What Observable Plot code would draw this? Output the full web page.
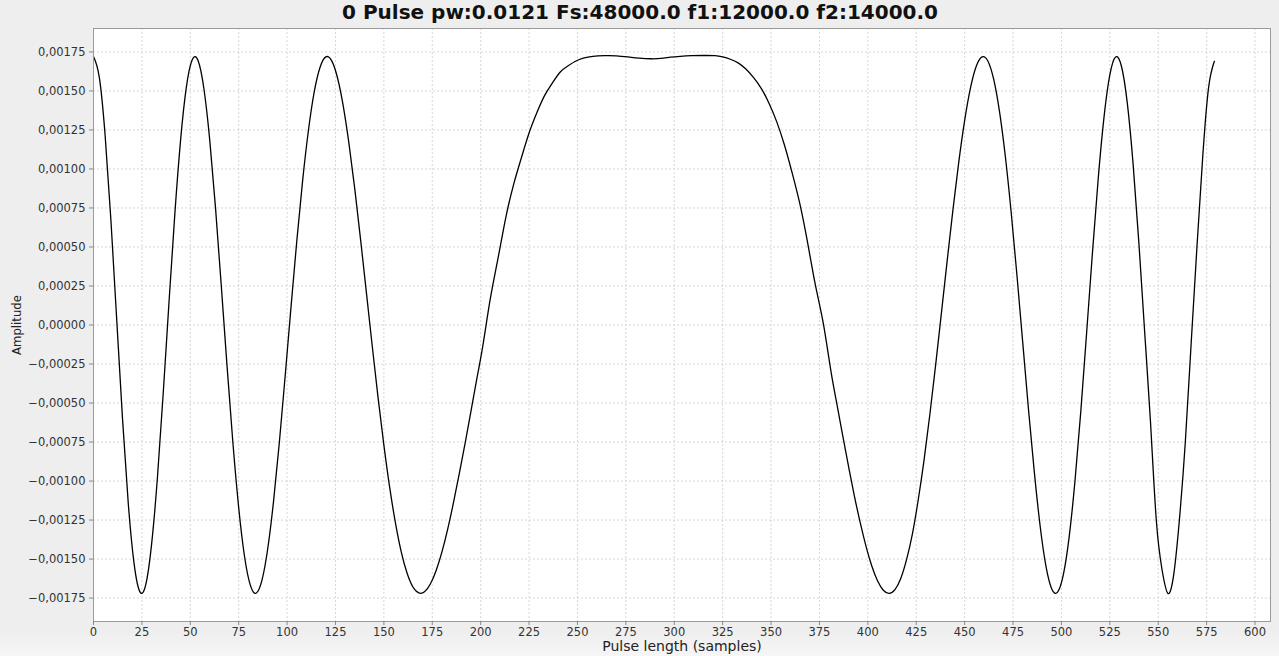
<!DOCTYPE html>
<html>
<head>
<meta charset="utf-8">
<script src="https://cdn.jsdelivr.net/npm/d3@7"></script>
<script src="https://cdn.jsdelivr.net/npm/@observablehq/plot@0.6"></script>
<style>
  html, body { margin: 0; padding: 0; }
  body { width: 1279px; height: 656px; overflow: hidden;
         background: linear-gradient(to bottom, #eeeeee 0px, #eeeeee 630px, #f6f6f6 656px); }
  #chart svg { display: block; }
</style>
</head>
<body>
<div id="chart"></div>
<script>
const titleText = "0 Pulse pw:0.0121 Fs:48000.0 f1:12000.0 f2:14000.0";
const xLabel = "Pulse length (samples)";
const yLabel = "Amplitude";

const xTicks = [0, 25, 50, 75, 100, 125, 150, 175, 200, 225, 250, 275, 300, 325, 350, 375, 400, 425, 450, 475, 500, 525, 550, 575, 600];
const yTicks = [-0.00175, -0.0015, -0.00125, -0.001, -0.00075, -0.0005, -0.00025, 0, 0.00025, 0.0005, 0.00075, 0.001, 0.00125, 0.0015, 0.00175];

const samples = [
  0, 3, 6, 9, 12, 15, 18, 21, 24, 27, 30, 33, 36, 39, 42, 45, 48, 51, 54, 57,
  60, 63, 66, 69, 72, 75, 78, 81, 84, 87, 90, 93, 96, 99, 102, 105, 108, 111, 114, 117,
  120, 123, 126, 129, 132, 135, 138, 141, 144, 147, 150, 153, 156, 159, 162, 165, 168, 171, 174, 177,
  180, 183, 186, 189, 192, 195, 198, 201, 205, 209, 213, 217, 221, 225, 229, 233, 237, 241, 245, 249,
  253, 258, 264, 270, 276, 282, 288, 293, 298, 303, 309, 315, 321, 325, 329, 333, 337, 341, 345, 349,
  353, 357, 361, 365, 369, 373, 377, 381, 384, 387, 390, 393, 396, 399, 402, 405, 408, 411, 414, 417,
  420, 423, 426, 429, 432, 435, 438, 441, 444, 447, 450, 453, 456, 459, 462, 465, 468, 471, 474, 477,
  480, 483, 486, 489, 492, 495, 498, 501, 504, 507, 510, 513, 516, 519, 522, 525, 528, 531, 534, 537,
  540, 543, 546, 549, 552, 555, 558, 561, 564, 567, 570, 573, 576, 579
];
const amplitude = [
  0.00172, 0.001587, 0.001216, 0.000671, 0.000032, -0.000603, -0.00115, -0.001532, -0.00171, -0.001664,
  -0.001406, -0.000982, -0.000441, 0.000146, 0.000709, 0.001186, 0.001527, 0.0017, 0.001695, 0.001517,
  0.001191, 0.000755, 0.000253, -0.000265, -0.000753, -0.00117, -0.001482, -0.001667, -0.001719, -0.001637,
  -0.001434, -0.00113, -0.000753, -0.000328, 0.000111, 0.000536, 0.000922, 0.001245, 0.001492, 0.00165,
  0.001718, 0.001694, 0.001586, 0.001404, 0.001159, 0.000869, 0.000544, 0.000204, -0.000136, -0.000465,
  -0.00077, -0.001041, -0.00127, -0.001456, -0.001591, -0.001679, -0.001717, -0.00171, -0.00166, -0.001573,
  -0.001454, -0.001307, -0.001135, -0.000949, -0.000755, -0.000552, -0.000345, -0.000142, 0.00017, 0.00043,
  0.00069, 0.0009, 0.00107, 0.00123, 0.00136, 0.00147, 0.00155, 0.00162, 0.00166, 0.00169,
  0.00171, 0.001722, 0.001726, 0.001725, 0.001718, 0.00171, 0.001706, 0.001708, 0.001716, 0.001722,
  0.001726, 0.001727, 0.001726, 0.001718, 0.001703, 0.00168, 0.00164, 0.001585, 0.001515, 0.00142,
  0.0013, 0.00115, 0.00097, 0.00077, 0.00052, 0.00025, 0.00001, -0.000301, -0.000505, -0.000708,
  -0.000904, -0.001093, -0.001263, -0.001415, -0.001543, -0.001639, -0.0017, -0.00172, -0.001696, -0.001625,
  -0.001504, -0.00134, -0.001123, -0.000869, -0.000577, -0.000259, 0.000076, 0.000414, 0.000743, 0.001047,
  0.00131, 0.001518, 0.001658, 0.001718, 0.001692, 0.001575, 0.001369, 0.001083, 0.000727, 0.000322,
  -0.00011, -0.000543, -0.000943, -0.001288, -0.001545, -0.001691, -0.001712, -0.0016, -0.001358, -0.001,
  -0.000555, -0.000053, 0.000459, 0.000937, 0.001332, 0.001603, 0.001718, 0.001658, 0.001425, 0.001036,
  0.000528, -0.000045, -0.00062, -0.00125, -0.00157, -0.00172, -0.0016, -0.00124, -0.00075, -0.00012,
  0.0005, 0.00108, 0.00152, 0.00169
];

const data = samples.map((n, i) => ({n, a: amplitude[i]}));
const fmt = v => d3.format(".5f")(v).replace(".", ",");

const gridStyle = {stroke: "#d6d6d6", strokeOpacity: 1, strokeDasharray: "2,2", strokeWidth: 1};

const chart = Plot.plot({
  width: 1279,
  height: 656,
  marginTop: 28,
  marginLeft: 93,
  marginRight: 9,
  marginBottom: 35,
  style: {background: "transparent", fontFamily: "DejaVu Sans, sans-serif", fontSize: "11px", color: "#333"},
  x: {domain: [0, 608]},
  y: {domain: [-0.0019, 0.0019]},
  marks: [
    Plot.frame({fill: "white", stroke: null}),
    Plot.gridX(xTicks, gridStyle),
    Plot.gridY(yTicks, gridStyle),
    Plot.line(data, {x: "n", y: "a", curve: "natural", stroke: "black", strokeWidth: 1.3}),
    Plot.frame({stroke: "#9a9a9a", strokeWidth: 1}),
    Plot.axisX(xTicks, {tickSize: 4, tickPadding: 2, stroke: "#888", fill: "#333", label: null, fontSize: 11.5}),
    Plot.axisY(yTicks, {tickSize: 4, tickPadding: 4, stroke: "#888", fill: "#333", tickFormat: fmt, label: null, fontSize: 11.5}),
    Plot.text([xLabel], {frameAnchor: "bottom", dy: 25, lineAnchor: "middle", fontSize: 14, fill: "#222"}),
    Plot.text([yLabel], {frameAnchor: "left", textAnchor: "middle", dx: -77, rotate: -90, lineAnchor: "middle", fontSize: 13,
                         fontFamily: "DejaVu Sans Condensed, Liberation Sans Narrow, sans-serif", fill: "#222"}),
    Plot.text([titleText], {frameAnchor: "top", dx: -42, dy: -16, lineAnchor: "middle", fontSize: 20,
                            fontWeight: "bold", fill: "#111"})
  ]
});
document.getElementById("chart").appendChild(chart);
</script>
</body>
</html>
